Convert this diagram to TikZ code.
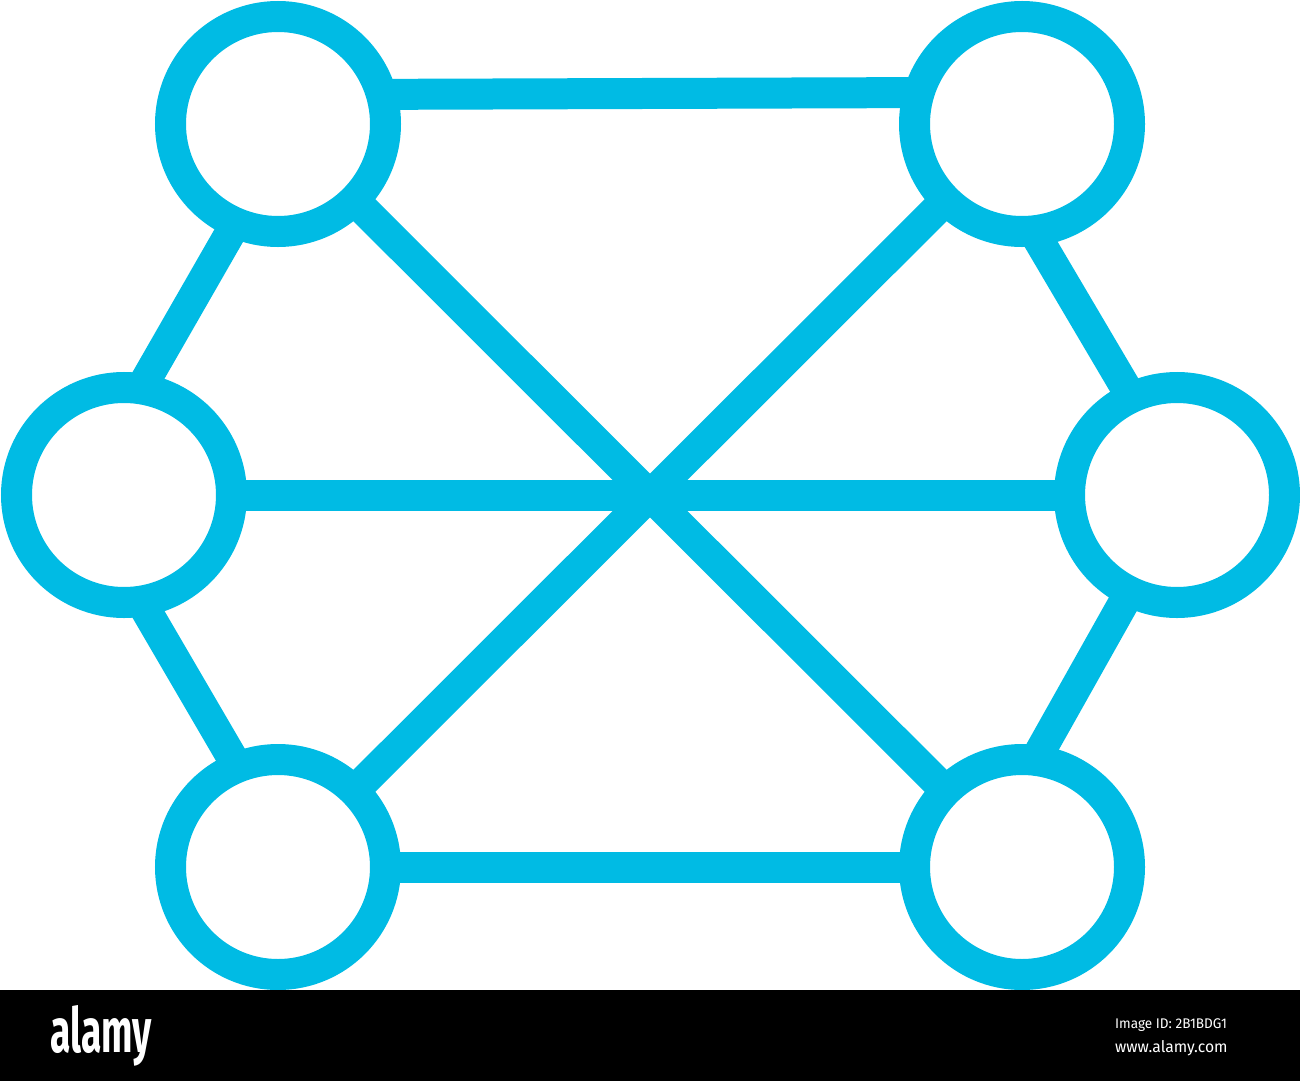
\documentclass[tikz,border=0pt]{standalone}
\usepackage{fontspec}
\setmainfont{Fira Sans}
\usetikzlibrary{positioning}
\definecolor{netblue}{RGB}{0,187,228}
\tikzset{hub/.style={circle, draw=netblue, line width=31pt, minimum size=215pt, inner sep=0pt, outer sep=0pt}}
\tikzset{link/.style={draw=netblue, line width=31pt}}
\tikzset{bartext/.style={anchor=base west, text=white, inner sep=0pt}}

\begin{document}
\begin{tikzpicture}[x=1pt,y=-1pt]
    \fill[white] (0,0) rectangle (1300,1081);
    \useasboundingbox (0,0) rectangle (1300,1081);
    \node[hub] (tl) at (278,124) {};
    \node[hub] (tr) at (1022,124) {};
    \node[hub] (ml) at (124,495) {};
    \node[hub] (mr) at (1177,495) {};
    \node[hub] (bl) at (278,867) {};
    \node[hub] (br) at (1022,867) {};

    \draw[link] (tl.16.8) -- (tr.163.2);
    \draw[link] (bl) -- (br);
    \draw[link] (ml) -- (mr);
    \draw[link] (tl) -- (br);
    \draw[link] (tr) -- (bl);
    \draw[link] (tl.247.2) -- (ml.81);
    \draw[link] (ml.279) -- (bl.112.8);
    \draw[link] (tr.276.4) -- (mr.115.6);
    \draw[link] (mr.244.4) -- (br.83.6);

    \fill[black] (0,990) rectangle (1300,1081);
    \node[bartext] (logo) at (50,1052) {\scalebox{0.6}[1]{\fontsize{62}{62}\selectfont\bfseries alamy}};
    \node[bartext] (imgid) at (1115,1028) {\scalebox{0.97}[1]{\fontsize{14}{14}\selectfont Image ID: 2B1BDG1}};
    \node[bartext] (site) at (1115,1052) {\scalebox{0.98}[1]{\fontsize{16}{16}\selectfont www.alamy.com}};
\end{tikzpicture}
\end{document}
